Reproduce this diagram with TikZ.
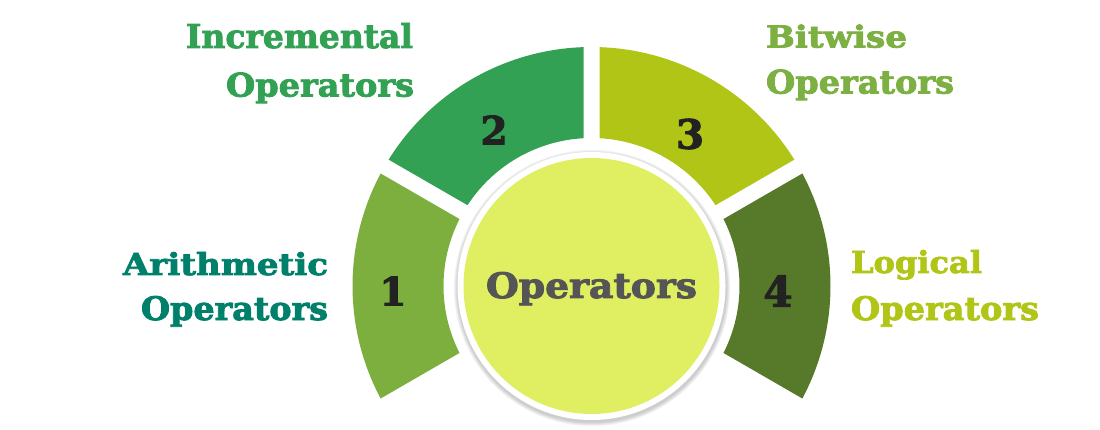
\documentclass[tikz,border=0pt]{standalone}
\usepackage{fontspec}
\setmainfont{DejaVu Serif}[BoldFeatures={FakeBold=2.5}]
\usepackage{graphicx}
\usetikzlibrary{calc}
\definecolor{segA}{HTML}{7CAF3E}
\definecolor{segB}{HTML}{33A153}
\definecolor{segC}{HTML}{B1C516}
\definecolor{segD}{HTML}{567A2A}
\definecolor{circ}{HTML}{E0EF62}
\definecolor{txtAri}{HTML}{00806A}
\definecolor{txtInc}{HTML}{33A153}
\definecolor{txtBit}{HTML}{7CB042}
\definecolor{txtLog}{HTML}{B1C516}
\definecolor{txtMid}{HTML}{555555}
\definecolor{digit}{HTML}{222222}
\newcommand\mysector[3]{%
  \fill[#1] ({#2+1.918}:239) arc[start angle={#2+1.918}, end angle={#3-1.918}, radius=239]
    -- ({#3-3.099}:148) arc[start angle={#3-3.099}, end angle={#2+3.099}, radius=148] -- cycle;}
\begin{document}
\begin{tikzpicture}[x=1pt,y=1pt,
  lbl/.style={inner sep=0pt, outer sep=0pt, font=\bfseries},
  num/.style={inner sep=0pt, font=\bfseries, text=digit}]
\useasboundingbox (0,0) rectangle (1100,-430);
\coordinate (C) at (591.5,-286);
\begin{scope}[shift={(C)}]
  \mysector{segA}{150}{210}
  \mysector{segB}{90}{150}
  \mysector{segC}{30}{90}
  \mysector{segD}{-30}{30}
  \foreach \i in {1,...,6}
    \fill[black, opacity=0.035] (0.5,-2) circle ({134+\i*0.7});
  \fill[white] (0,0) circle (134);
  \fill[circ] (0,0) circle (128);
\end{scope}
% center label
\node[lbl, text=txtMid, anchor=base] (mid) at (591.5,-298) {\resizebox{211pt}{26pt}{Operators}};
% numbers
\node[num] (n1) at (393,-291) {\resizebox{!}{29pt}{1}};
\node[num] (n2) at (494,-130) {\resizebox{!}{29pt}{2}};
\node[num] (n3) at (690,-134) {\resizebox{!}{30pt}{3}};
\node[num] (n4) at (778,-291) {\resizebox{!}{31pt}{4}};
% labels
\node[lbl, text=txtInc, anchor=base east] (inc1) at (413,-48) {\resizebox{227pt}{25pt}{Incremental}};
\node[lbl, text=txtInc, anchor=base east] (inc2) at (414,-96.5) {\resizebox{188pt}{24pt}{Operators}};
\node[lbl, text=txtBit, anchor=base west] (bit1) at (766,-47.5) {\resizebox{141pt}{23pt}{Bitwise}};
\node[lbl, text=txtBit, anchor=base west] (bit2) at (766,-93.5) {\resizebox{188pt}{24pt}{Operators}};
\node[lbl, text=txtAri, anchor=base east] (ari1) at (328,-275) {\resizebox{205pt}{23pt}{Arithmetic}};
\node[lbl, text=txtAri, anchor=base east] (ari2) at (328,-320) {\resizebox{187pt}{24pt}{Operators}};
\node[lbl, text=txtLog, anchor=base west] (log1) at (851,-273) {\resizebox{131pt}{23pt}{Logical}};
\node[lbl, text=txtLog, anchor=base west] (log2) at (851,-320) {\resizebox{188pt}{24pt}{Operators}};
\end{tikzpicture}
\end{document}
